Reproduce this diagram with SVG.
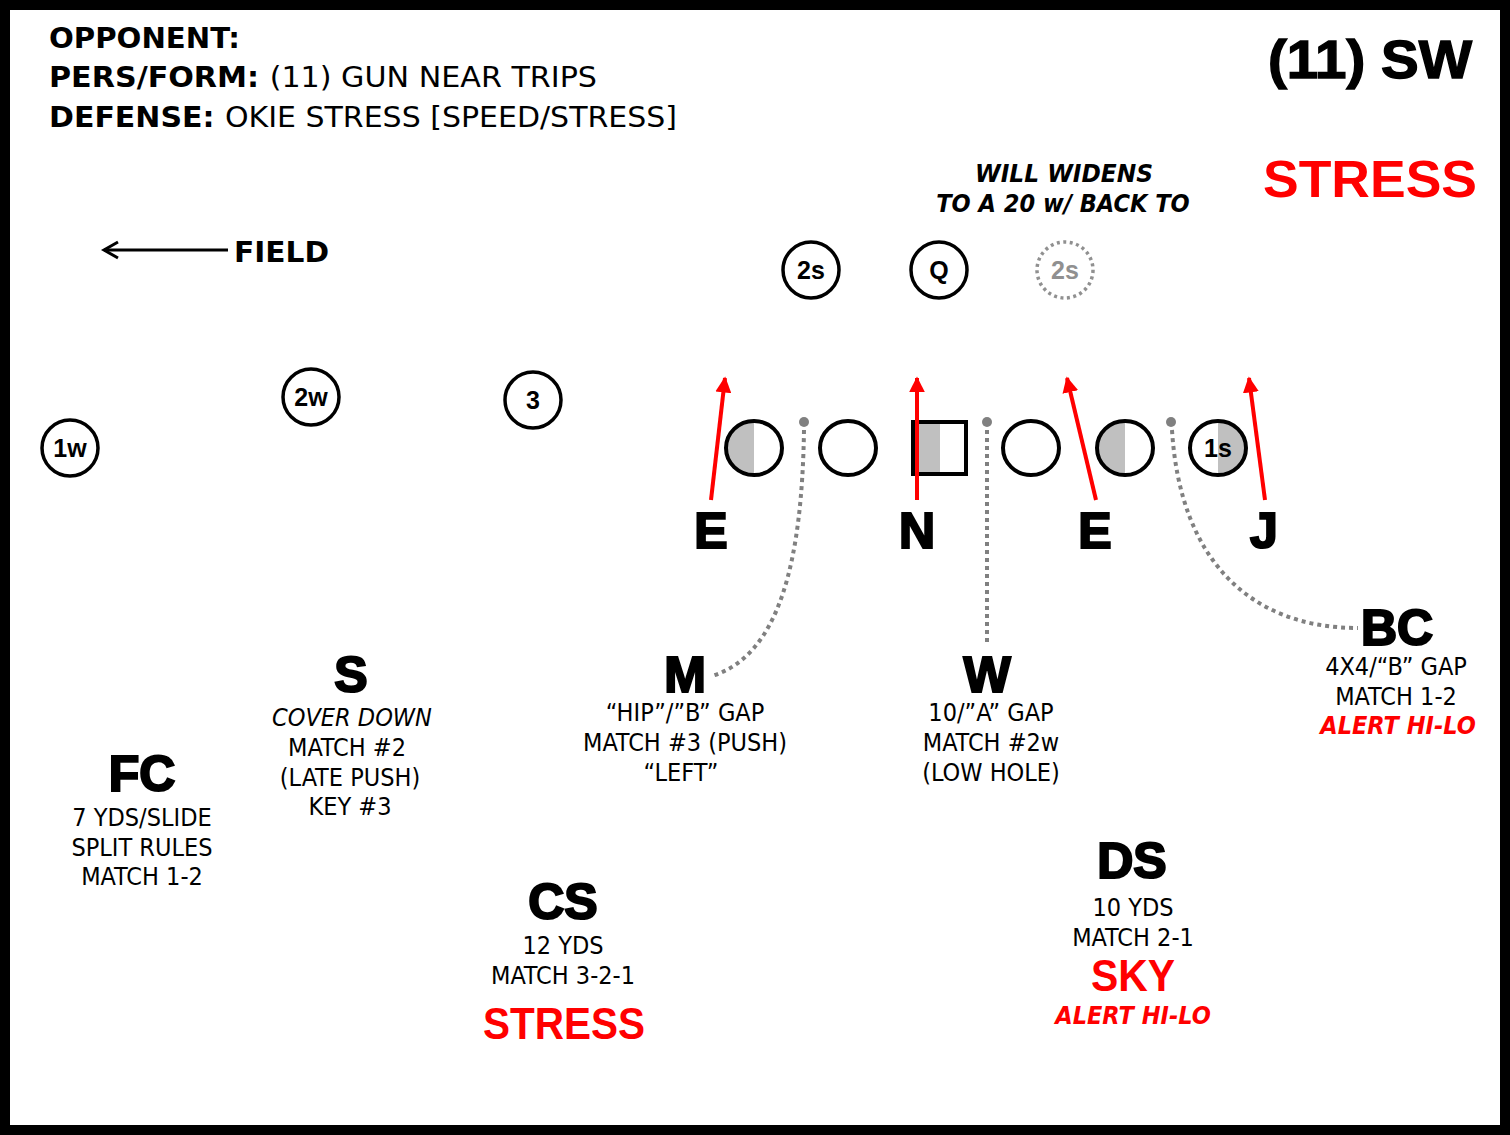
<svg xmlns="http://www.w3.org/2000/svg" width="1510" height="1135" viewBox="0 0 1510 1135">
<style>
.hdrb{font-family:"DejaVu Sans Condensed","DejaVu Sans",sans-serif;font-weight:bold;font-size:29px;fill:#000}
.hdr{font-family:"DejaVu Sans Condensed","DejaVu Sans",sans-serif;font-weight:normal;font-size:29px;fill:#000}
.big{font-family:"Liberation Sans",Arial,sans-serif;font-weight:bold;fill:#000;stroke:#000;stroke-width:2.2;text-anchor:middle}
.note{font-family:"DejaVu Sans Condensed","DejaVu Sans",sans-serif;font-size:25px;fill:#000;text-anchor:middle}
.noteI{font-family:"DejaVu Sans Condensed","DejaVu Sans",sans-serif;font-size:25px;font-style:italic;fill:#000;text-anchor:middle}
.alert{font-family:"DejaVu Sans Condensed","DejaVu Sans",sans-serif;font-size:25px;font-style:italic;font-weight:bold;fill:#ff0000;text-anchor:middle}
.redbig{font-family:"Liberation Sans",Arial,sans-serif;font-weight:bold;fill:#ff0000;text-anchor:middle}
.pl{fill:#fff;stroke:#000;stroke-width:3.5}
.plt{font-family:"Liberation Sans",Arial,sans-serif;font-weight:bold;font-size:25px;fill:#000;text-anchor:middle}
.ol{fill:#fff;stroke:#000;stroke-width:4}
.dot{stroke:#808080;stroke-width:4;stroke-dasharray:4 4;fill:none}
.red{stroke:#ff0000;stroke-width:4;fill:none}
</style>
<defs>
<marker id="ra" viewBox="0 0 10 10" refX="9" refY="5" markerWidth="4" markerHeight="4" orient="auto" markerUnits="strokeWidth">
<path d="M0,0 L10,5 L0,10 z" fill="#ff0000"/>
</marker>
</defs>
<rect x="0" y="0" width="1510" height="1135" fill="#fff"/>
<rect x="5" y="5" width="1500" height="1125" fill="none" stroke="#000" stroke-width="10"/>

<g id="header">
<text x="49" y="48" class="hdrb" textLength="191" lengthAdjust="spacingAndGlyphs">OPPONENT:</text>
<text x="49" y="87" class="hdrb" textLength="548" lengthAdjust="spacingAndGlyphs">PERS/FORM: <tspan class="hdr">(11) GUN NEAR TRIPS</tspan></text>
<text x="49" y="127" class="hdrb" textLength="628" lengthAdjust="spacingAndGlyphs">DEFENSE: <tspan class="hdr">OKIE STRESS [SPEED/STRESS]</tspan></text>
<text x="1370" y="78" class="big" font-size="53" style="stroke-width:1.4" textLength="204" lengthAdjust="spacingAndGlyphs">(11) SW</text>
<text x="1370" y="197" class="redbig" font-size="52" textLength="214" lengthAdjust="spacingAndGlyphs">STRESS</text>
</g>

<g id="will-note" font-family="DejaVu Sans Condensed, DejaVu Sans, sans-serif" font-weight="bold" font-style="italic" font-size="25" text-anchor="middle">
<text x="1064" y="182" textLength="178" lengthAdjust="spacingAndGlyphs">WILL WIDENS</text>
<text x="1063" y="212">TO A 20 w/ BACK TO</text>
</g>

<g id="field">
<line x1="104" y1="250" x2="228" y2="250" stroke="#000" stroke-width="3"/>
<path d="M118,242 L104,250 L118,258" fill="none" stroke="#000" stroke-width="3"/>
<text x="234" y="262" class="hdrb" font-size="29" textLength="95" lengthAdjust="spacingAndGlyphs">FIELD</text>
</g>

<g id="offense">
<g id="p2s"><circle cx="811" cy="270" r="28" class="pl"/><text x="811" y="279" class="plt">2s</text></g>
<g id="pQ"><circle cx="939" cy="270" r="28" class="pl"/><text x="939" y="279" class="plt">Q</text></g>
<g id="p2s-alt"><circle cx="1065" cy="270" r="28" fill="#fff" stroke="#909090" stroke-width="3.5" stroke-dasharray="3 3.5"/><text x="1065" y="279" class="plt" style="fill:#909090">2s</text></g>
<g id="p2w"><circle cx="311" cy="397" r="28" class="pl"/><text x="311" y="406" class="plt">2w</text></g>
<g id="p3"><circle cx="533" cy="400" r="28" class="pl"/><text x="533" y="409" class="plt">3</text></g>
<g id="p1w"><circle cx="70" cy="448" r="28" class="pl"/><text x="70" y="457" class="plt">1w</text></g>
<g id="ol1"><path d="M754,421 A28,27 0 0 0 754,475 Z" fill="#c0c0c0"/><ellipse cx="754" cy="448" rx="28" ry="27" fill="none" stroke="#000" stroke-width="4"/></g>
<g id="ol2"><ellipse cx="848" cy="448" rx="28" ry="27" class="ol"/></g>
<g id="center"><rect x="913" y="422" width="53" height="52" fill="#fff"/><rect x="915" y="424" width="25" height="48" fill="#c0c0c0"/><rect x="913" y="422" width="53" height="52" fill="none" stroke="#000" stroke-width="4"/></g>
<g id="ol4"><ellipse cx="1031" cy="448" rx="28" ry="27" class="ol"/></g>
<g id="ol5"><path d="M1125,421 A28,27 0 0 0 1125,475 Z" fill="#c0c0c0"/><ellipse cx="1125" cy="448" rx="28" ry="27" fill="none" stroke="#000" stroke-width="4"/></g>
<g id="p1s"><path d="M1218,421 A28,27 0 0 1 1218,475 Z" fill="#c0c0c0"/><ellipse cx="1218" cy="448" rx="28" ry="27" fill="none" stroke="#000" stroke-width="4"/><text x="1218" y="457" class="plt">1s</text></g>
</g>

<g id="connectors">
<circle cx="804" cy="422" r="5" fill="#808080"/>
<circle cx="987" cy="422" r="5" fill="#808080"/>
<circle cx="1171" cy="422" r="5" fill="#808080"/>
<path d="M804,430 C802,560 780,655 712,676" class="dot"/>
<path d="M987,430 L987,645" class="dot"/>
<path d="M1172,430 C1180,560 1250,628 1358,628" class="dot"/>
<line x1="711" y1="500" x2="725" y2="378" class="red" marker-end="url(#ra)"/>
<line x1="917" y1="500" x2="917" y2="378" class="red" marker-end="url(#ra)"/>
<line x1="1096" y1="500" x2="1067" y2="378" class="red" marker-end="url(#ra)"/>
<line x1="1265" y1="500" x2="1249" y2="378" class="red" marker-end="url(#ra)"/>
</g>

<g id="dl">
<text x="711" y="548" class="big" font-size="50">E</text>
<text x="917" y="548" class="big" font-size="50">N</text>
<text x="1095" y="548" class="big" font-size="50">E</text>
<text x="1264" y="548" class="big" font-size="50">J</text>
</g>

<g id="S">
<text x="351" y="692" class="big" font-size="50">S</text>
<text x="352" y="726" class="noteI">COVER DOWN</text>
<text x="347" y="756" class="note">MATCH #2</text>
<text x="350" y="786" class="note">(LATE PUSH)</text>
<text x="350" y="815" class="note">KEY #3</text>
</g>

<g id="M">
<text x="685" y="692" class="big" font-size="50">M</text>
<text x="685" y="721" class="note">“HIP”/”B” GAP</text>
<text x="685" y="751" class="note">MATCH #3 (PUSH)</text>
<text x="681" y="781" class="note">“LEFT”</text>
</g>

<g id="W">
<text x="987" y="692" class="big" font-size="50">W</text>
<text x="991" y="721" class="note">10/”A” GAP</text>
<text x="991" y="751" class="note">MATCH #2w</text>
<text x="991" y="781" class="note">(LOW HOLE)</text>
</g>

<g id="BC">
<text x="1397" y="645" class="big" font-size="50">BC</text>
<text x="1396" y="675" class="note">4X4/“B” GAP</text>
<text x="1396" y="705" class="note">MATCH 1-2</text>
<text x="1398" y="734" class="alert">ALERT HI-LO</text>
</g>

<g id="FC">
<text x="142" y="791" class="big" font-size="50">FC</text>
<text x="142" y="826" class="note">7 YDS/SLIDE</text>
<text x="142" y="856" class="note">SPLIT RULES</text>
<text x="142" y="885" class="note">MATCH 1-2</text>
</g>

<g id="CS">
<text x="563" y="919" class="big" font-size="50">CS</text>
<text x="563" y="954" class="note">12 YDS</text>
<text x="563" y="984" class="note">MATCH 3-2-1</text>
<text x="564" y="1039" class="redbig" font-size="44" textLength="162" lengthAdjust="spacingAndGlyphs">STRESS</text>
</g>

<g id="DS">
<text x="1132" y="878" class="big" font-size="50">DS</text>
<text x="1133" y="916" class="note">10 YDS</text>
<text x="1133" y="946" class="note">MATCH 2-1</text>
<text x="1133" y="991" class="redbig" font-size="44" textLength="84" lengthAdjust="spacingAndGlyphs">SKY</text>
<text x="1133" y="1024" class="alert">ALERT HI-LO</text>
</g>
</svg>
